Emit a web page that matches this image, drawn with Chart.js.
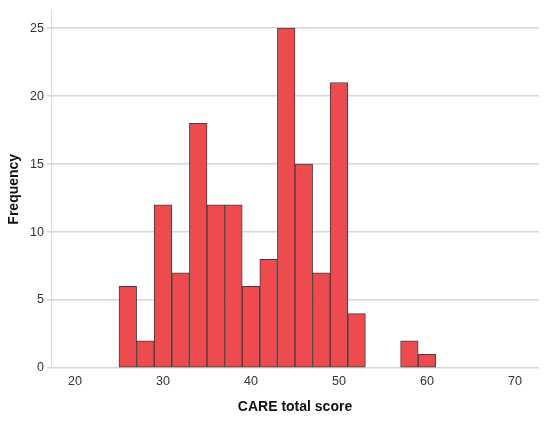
<!DOCTYPE html>
<html lang="en">
<head>
  <meta charset="UTF-8" />
  <title>CARE total score histogram</title>
  <script src="https://cdn.jsdelivr.net/npm/chart.js@4.4.1/dist/chart.umd.min.js"></script>
  <style>
    html, body { margin: 0; padding: 0; background: #fff; }
    #wrap { width: 550px; height: 424px; }
  </style>
</head>
<body>
  <div id="wrap"><canvas id="hist" width="550" height="424"></canvas></div>

  <script>
  // histogram bins (width 2), centre of each bin and its count
  const binCenters  = [26, 28, 30, 32, 34, 36, 38, 40, 42, 44, 46, 48, 50, 52, 54, 56, 58, 60];
  const frequencies = [ 6,  2, 12,  7, 18, 12, 12,  6,  8, 25, 15,  7, 21,  4,  0,  0,  2,  1];
  const xTicks = [20, 30, 40, 50, 60, 70];
  const yTicks = [0, 5, 10, 15, 20, 25];

  const font = "'Liberation Sans', Arial, sans-serif";

  new Chart(document.getElementById('hist'), {
    type: 'bar',
    data: {
      datasets: [{
        label: 'Frequency',
        data: binCenters.map((c, i) => ({ x: c, y: frequencies[i] })),
        backgroundColor: '#ee4b4f',
        borderColor: '#404040',
        borderWidth: 1,
        borderSkipped: false,
        barPercentage: 1,
        categoryPercentage: 1
      }]
    },
    options: {
      responsive: false,
      animation: false,
      devicePixelRatio: 1,
      layout: { padding: { top: 8, right: 11, left: 0, bottom: 0 } },
      plugins: { legend: { display: false }, tooltip: { enabled: false } },
      scales: {
        x: {
          type: 'linear',
          offset: false,
          min: 17.27,
          max: 72.73,
          afterBuildTicks: s => { s.ticks = xTicks.map(v => ({ value: v })); },
          afterFit: s => { s.height = 56; },
          grid: { display: false, drawTicks: false },
          border: { display: false },
          ticks: { padding: 6, color: '#333', font: { family: font, size: 12.5 } },
          title: {
            display: true, text: 'CARE total score', color: '#111',
            font: { family: font, size: 14, weight: 'bold' },
            padding: { top: 0, bottom: 8 }
          }
        },
        y: {
          min: 0,
          max: 26.3,
          afterBuildTicks: s => { s.ticks = yTicks.map(v => ({ value: v })); },
          afterFit: s => { s.width = 51; },
          grid: { color: '#d6d6d6', lineWidth: 1.5, tickLength: 4 },
          border: { display: true, color: '#dcdcdc', width: 1 },
          ticks: { padding: 3, color: '#333', font: { family: font, size: 12.5 } },
          title: {
            display: true, text: 'Frequency', color: '#111',
            font: { family: font, size: 14, weight: 'bold' },
            padding: { top: 6, bottom: 0 }
          }
        }
      }
    }
  });
  </script>
</body>
</html>
